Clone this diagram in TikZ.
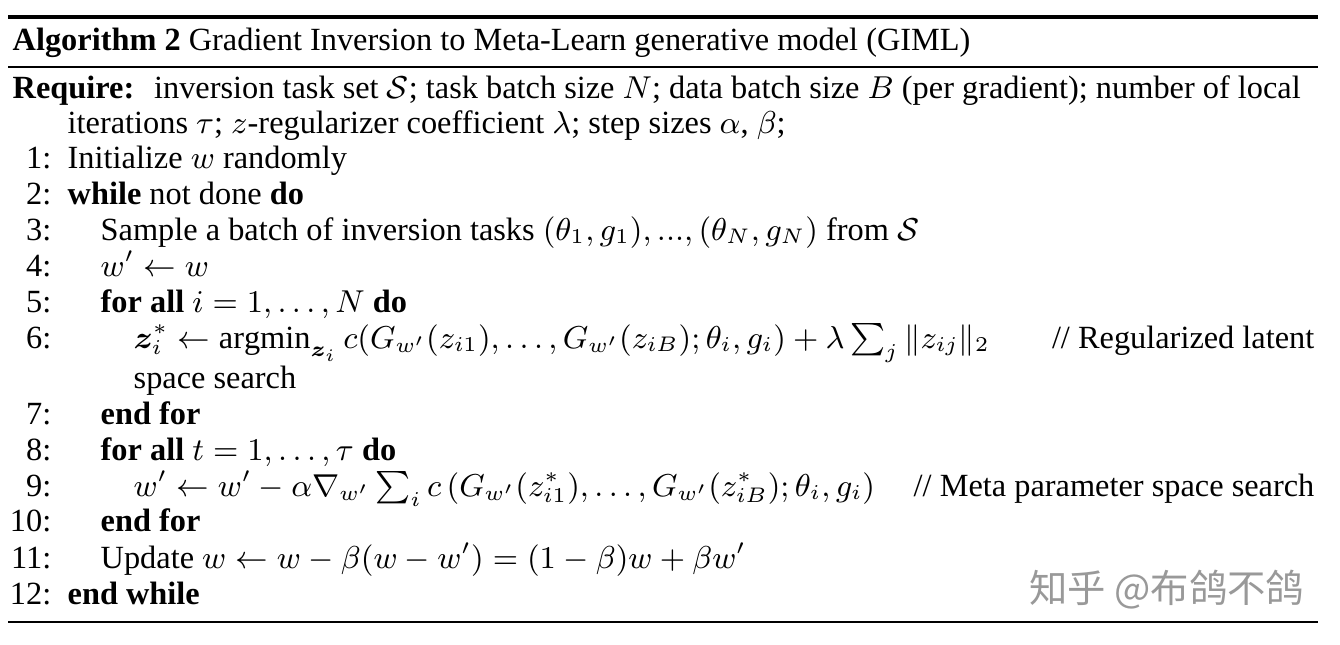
\documentclass[tikz,border=0pt]{standalone}
\usepackage{amsmath,amssymb,bm}
\usepackage{fontspec}
\setmainfont{Liberation Serif}
\newfontfamily\cjk{Noto Sans CJK SC}
\begin{document}
\begin{tikzpicture}[x=0.01cm,y=-0.01cm,
  t/.style={anchor=base west,inner sep=0pt,font=\fontsize{9.2}{10.4}\selectfont},
  n/.style={anchor=base east,inner sep=0pt,font=\fontsize{9.2}{10.4}\selectfont},
  r/.style={anchor=base east,inner sep=0pt,font=\fontsize{9.2}{10.4}\selectfont}]
\useasboundingbox (0,0) rectangle (1340,644);
\draw[line width=0.9pt] (8,17) -- (1318,17);
\draw[line width=0.35pt] (8,67) -- (1318,67);
\draw[line width=0.35pt] (8,622) -- (1318,622);
\node[t] (title) at (12,50) {\textbf{Algorithm 2} Gradient Inversion to Meta-Learn generative model (GIML)};
\node[t] (req) at (12,98) {\textbf{Require:}\; inversion task set $\mathcal{S}$; task batch size $N$; data batch size $B$ (per gradient); number of local};
\node[t] (req2) at (67,133) {iterations $\tau$; $z$-regularizer coefficient $\lambda$; step sizes $\alpha$, $\beta$;};
\foreach \i/\y in {1/168,2/204,3/240,4/276,5/312,6/348,7/424,8/460,9/496,10/531,11/568,12/604}
  \node[n] (n\i) at (52,\y) {\i:};
\node[t] (l1) at (67,168) {Initialize $w$ randomly};
\node[t] (l2) at (67,204) {\textbf{while} not done \textbf{do}};
\node[t] (l3) at (100,240) {Sample a batch of inversion tasks $(\theta_1,g_1),...,(\theta_N,g_N)$ from $\mathcal{S}$};
\node[t] (l4) at (100,276) {$w'\leftarrow w$};
\node[t] (l5) at (100,312) {\textbf{for all} $i=1,\ldots,N$ \textbf{do}};
\node[t] (l6) at (133,348) {$\bm{z}_i^*\leftarrow\operatorname{argmin}_{\bm{z}_i} c(G_{w'}(z_{i1}),\ldots,G_{w'}(z_{iB});\theta_i,g_i)+\lambda\sum_j\|z_{ij}\|_2$};
\node[r] (c6) at (1315,348) {// Regularized latent};
\node[t] (l6b) at (133,388) {space search};
\node[t] (l7) at (100,424) {\textbf{end for}};
\node[t] (l8) at (100,460) {\textbf{for all} $t=1,\ldots,\tau$ \textbf{do}};
\node[t] (l9) at (133,496) {$w'\leftarrow w'-\alpha\nabla_{w'}\sum_i c\left(G_{w'}(z_{i1}^*),\ldots,G_{w'}(z_{iB}^*);\theta_i,g_i\right)$};
\node[r] (c9) at (1315,496) {// Meta parameter space search};
\node[t] (l10) at (100,531) {\textbf{end for}};
\node[t] (l11) at (100,568) {Update $w\leftarrow w-\beta(w-w')=(1-\beta)w+\beta w'$};
\node[t] (l12) at (67,604) {\textbf{end while}};
\node[anchor=base east,inner sep=0pt,text=black!40,font=\cjk\fontsize{10.9}{12}\selectfont] (wm) at (1305,602) {知乎 @布鸽不鸽};
\end{tikzpicture}
\end{document}
